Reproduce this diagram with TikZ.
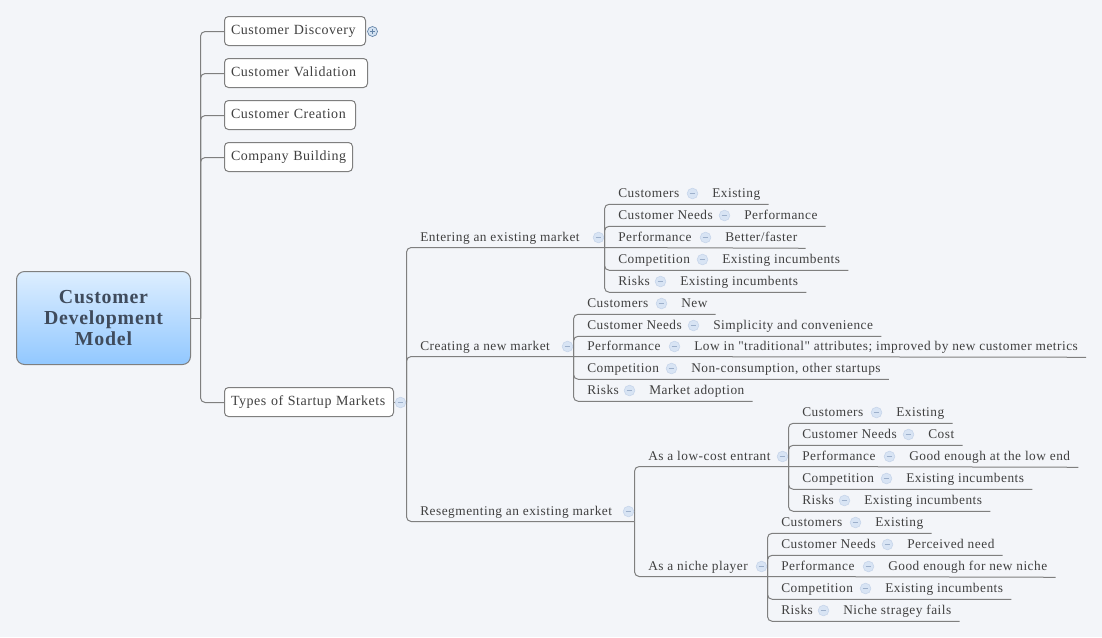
\documentclass[tikz,border=0pt]{standalone}
\usepackage{fontspec}
\setmainfont[LetterSpace=3.8]{Liberation Serif}
\newfontfamily\straightfont[LetterSpace=3.8]{Liberation Serif}
\usetikzlibrary{positioning, calc, shapes.geometric}
\definecolor{mapbg}{HTML}{F3F5F9}
\definecolor{maptext}{HTML}{404040}
\definecolor{mapline}{HTML}{7F7F7F}
\definecolor{roottext}{HTML}{3F4B5C}
\definecolor{roottop}{HTML}{DDEEFF}
\definecolor{rootbottom}{HTML}{92C8FF}
\definecolor{icondraw}{HTML}{C9D7EB}
\definecolor{iconfill}{HTML}{D8E4F4}
\definecolor{iconbar}{HTML}{9DB0CB}
\definecolor{plusdraw}{HTML}{6484A8}
\definecolor{plusfill}{HTML}{D3E2F2}
\begin{document}
\begin{tikzpicture}[x=0.75pt, y=-0.75pt,
    link/.style={draw=mapline, line width=0.75pt, rounded corners=3.5pt},
    rootbox/.style={draw=mapline, line width=0.75pt, rounded corners=6pt, top color=roottop, bottom color=rootbottom, align=center, font=\fontsize{14.9}{15.4}\selectfont\bfseries, text=roottext, minimum width=130.5pt, minimum height=69.75pt, inner sep=0pt, outer sep=0pt},
    mainbox/.style={draw=mapline, line width=0.75pt, fill=white, rounded corners=3pt, text=maptext, font=\fontsize{10.5}{12}\selectfont, anchor=west, minimum height=21.75pt, inner xsep=4.875pt, inner ysep=0pt, outer sep=0pt, text height=7.5pt, text depth=2.25pt},
    topic/.style={text=maptext, font=\fontsize{10}{12}\selectfont, anchor=west, inner ysep=0pt, inner xsep=0pt, text height=11.625pt, text depth=4.875pt},
    leaf/.style={topic, inner xsep=6pt},
    minusicon/.style={circle, draw=icondraw, fill=iconfill, line width=0.5pt, minimum size=8pt, inner sep=0pt,
      path picture={\draw[iconbar, line width=0.6pt] ([xshift=1.8pt]path picture bounding box.west) -- ([xshift=-1.8pt]path picture bounding box.east);}},
    plusicon/.style={circle, draw=plusdraw, fill=plusfill, line width=0.5pt, minimum size=7.5pt, inner sep=0pt,
      path picture={\draw[plusdraw, line width=0.5pt] ([xshift=1.7pt]path picture bounding box.west) -- ([xshift=-1.7pt]path picture bounding box.east) ([yshift=1.7pt]path picture bounding box.south) -- ([yshift=-1.7pt]path picture bounding box.north);}}]
      \fill[mapbg] (0, 0) rectangle (1102, 637);

      \node[rootbox] (root) at (103.5, 318) {Customer\\Development\\Model};
      \coordinate (trunk) at (200.5, 318.5);
      \node[mainbox, text width=96pt] (discovery) at (224.5, 31) {Customer Discovery};
      \node[mainbox, text width=97.5pt] (validation) at (224.5, 73) {Customer Validation};
      \node[mainbox, text width=88.5pt] (creation) at (224.5, 115) {Customer Creation};
      \node[mainbox, text width=86.25pt] (building) at (224.5, 157) {Company Building};
      \node[mainbox, text width=117pt] (types) at (224.5, 402) {Types of Startup Markets};
      \draw[link] ([yshift=-.375pt]root.east) -- (trunk);
      \draw[link] ([yshift=-.375pt]discovery.west) -| (trunk);
      \draw[link] ([yshift=-.375pt]validation.west) -| (trunk);
      \draw[link] ([yshift=-.375pt]creation.west) -| (trunk);
      \draw[link] ([yshift=-.375pt]building.west) -| (trunk);
      \draw[link] ([yshift=-.375pt]types.west) -| (trunk);
      \node[plusicon] (discoveryplus) at (372.5, 31.5) {};

      \coordinate (marketsTrunk) at (406.5, 402.5);
      \coordinate (enterTrunk) at (604.5, 247.5);
      \coordinate (newTrunk) at (573.5, 356.5);
      \coordinate (resegTrunk) at (634.5, 521.5);
      \coordinate (lowTrunk) at (788.5, 466.5);
      \coordinate (nicheTrunk) at (767.5, 576.5);
      \draw[link] ([yshift=-.375pt]types.east) -- (marketsTrunk);
      \draw[link] (enterTrunk) -| (marketsTrunk);
      \draw[link] (newTrunk) -| (marketsTrunk);
      \draw[link] (resegTrunk) -| (marketsTrunk);
      \draw[link] (lowTrunk) -| (resegTrunk);
      \draw[link] (nicheTrunk) -| (resegTrunk);
      \node[minusicon] (typesminus) at (400.5, 402.5) {};

      \node[topic] (enter) at (420, 237) {Entering an existing market};
      \node[minusicon] (enterminus) at (598.5, 237.5) {};
      \node[topic] (new) at (420, 346) {Creating a new market};
      \node[minusicon] (newminus) at (567.5, 346.5) {};
      \node[topic] (reseg) at (420, 511) {Resegmenting an existing market};
      \node[minusicon] (resegminus) at (628.5, 511.5) {};
      \node[topic] (low) at (648, 456) {As a low-cost entrant};
      \node[minusicon] (lowminus) at (782.5, 456.5) {};
      \node[topic] (niche) at (648, 566) {As a niche player};
      \node[minusicon] (nicheminus) at (761.5, 566.5) {};

      % entering an existing market
      \node[topic] (enterA) at (618, 193) {Customers};
      \node[minusicon] (enterAm) at (692.5, 193.5) {};
      \node[leaf] (enterAx) at (704, 193) {Existing};
      \node[topic] (enterB) at (618, 215) {Customer Needs};
      \node[minusicon] (enterBm) at (724.5, 215.5) {};
      \node[leaf] (enterBx) at (736, 215) {Performance};
      \node[topic] (enterC) at (618, 237) {Performance};
      \node[minusicon] (enterCm) at (705.5, 237.5) {};
      \node[leaf] (enterCx) at (717, 237) {Better/faster};
      \node[topic] (enterD) at (618, 259) {Competition};
      \node[minusicon] (enterDm) at (702.5, 259.5) {};
      \node[leaf] (enterDx) at (714, 259) {Existing incumbents};
      \node[topic] (enterE) at (618, 281) {Risks};
      \node[minusicon] (enterEm) at (660.5, 281.5) {};
      \node[leaf] (enterEx) at (672, 281) {Existing incumbents};
      \draw[link] (enterAx.south east) -| (enterTrunk) |- (enterEx.south east);
      \draw[link] (enterBx.south east) -| (enterTrunk);
      \draw[link] (enterCx.south east) -- (enterTrunk);
      \draw[link] (enterDx.south east) -| (enterTrunk);

      % creating a new market
      \node[topic] (newA) at (587, 303) {Customers};
      \node[minusicon] (newAm) at (661.5, 303.5) {};
      \node[leaf] (newAx) at (673, 303) {New};
      \node[topic] (newB) at (587, 325) {Customer Needs};
      \node[minusicon] (newBm) at (693.5, 325.5) {};
      \node[leaf] (newBx) at (705, 325) {Simplicity and convenience};
      \node[topic] (newC) at (587, 346) {Performance};
      \node[minusicon] (newCm) at (674.5, 346.5) {};
      \node[leaf] (newCx) at (686, 346) {\straightfont Low in "traditional" attributes; improved by new customer metrics};
      \node[topic] (newD) at (587, 368) {Competition};
      \node[minusicon] (newDm) at (671.5, 368.5) {};
      \node[leaf] (newDx) at (683, 368) {Non-consumption, other startups};
      \node[topic] (newE) at (587, 390) {Risks};
      \node[minusicon] (newEm) at (629.5, 390.5) {};
      \node[leaf] (newEx) at (641, 390) {Market adoption};
      \draw[link] (newAx.south east) -| (newTrunk) |- (newEx.south east);
      \draw[link] (newBx.south east) -| (newTrunk);
      \draw[link] (newCx.south east) -- (newTrunk);
      \draw[link] (newDx.south east) -| (newTrunk);

      % as a low-cost entrant
      \node[topic] (lowA) at (802, 412) {Customers};
      \node[minusicon] (lowAm) at (876.5, 412.5) {};
      \node[leaf] (lowAx) at (888, 412) {Existing};
      \node[topic] (lowB) at (802, 434) {Customer Needs};
      \node[minusicon] (lowBm) at (908.5, 434.5) {};
      \node[leaf] (lowBx) at (920, 434) {Cost};
      \node[topic] (lowC) at (802, 456) {Performance};
      \node[minusicon] (lowCm) at (889.5, 456.5) {};
      \node[leaf] (lowCx) at (901, 456) {Good enough at the low end};
      \node[topic] (lowD) at (802, 478) {Competition};
      \node[minusicon] (lowDm) at (886.5, 478.5) {};
      \node[leaf] (lowDx) at (898, 478) {Existing incumbents};
      \node[topic] (lowE) at (802, 500) {Risks};
      \node[minusicon] (lowEm) at (844.5, 500.5) {};
      \node[leaf] (lowEx) at (856, 500) {Existing incumbents};
      \draw[link] (lowAx.south east) -| (lowTrunk) |- (lowEx.south east);
      \draw[link] (lowBx.south east) -| (lowTrunk);
      \draw[link] (lowCx.south east) -- (lowTrunk);
      \draw[link] (lowDx.south east) -| (lowTrunk);

      % as a niche player
      \node[topic] (nicheA) at (781, 522) {Customers};
      \node[minusicon] (nicheAm) at (855.5, 522.5) {};
      \node[leaf] (nicheAx) at (867, 522) {Existing};
      \node[topic] (nicheB) at (781, 544) {Customer Needs};
      \node[minusicon] (nicheBm) at (887.5, 544.5) {};
      \node[leaf] (nicheBx) at (899, 544) {Perceived need};
      \node[topic] (nicheC) at (781, 566) {Performance};
      \node[minusicon] (nicheCm) at (868.5, 566.5) {};
      \node[leaf] (nicheCx) at (880, 566) {Good enough for new niche};
      \node[topic] (nicheD) at (781, 588) {Competition};
      \node[minusicon] (nicheDm) at (865.5, 588.5) {};
      \node[leaf] (nicheDx) at (877, 588) {Existing incumbents};
      \node[topic] (nicheE) at (781, 610) {Risks};
      \node[minusicon] (nicheEm) at (823.5, 610.5) {};
      \node[leaf] (nicheEx) at (835, 610) {Niche stragey fails};
      \draw[link] (nicheAx.south east) -| (nicheTrunk) |- (nicheEx.south east);
      \draw[link] (nicheBx.south east) -| (nicheTrunk);
      \draw[link] (nicheCx.south east) -- (nicheTrunk);
      \draw[link] (nicheDx.south east) -| (nicheTrunk);
\end{tikzpicture}
\end{document}
